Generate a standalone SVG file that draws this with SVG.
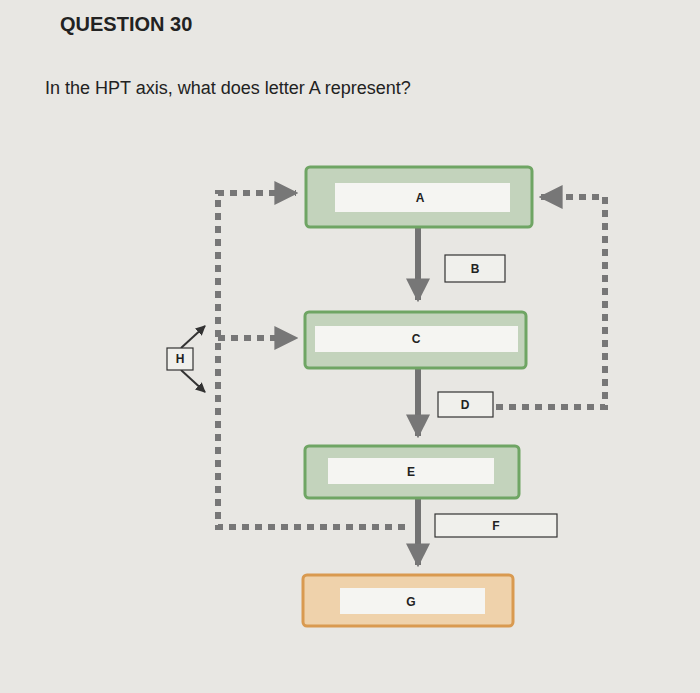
<svg xmlns="http://www.w3.org/2000/svg" width="700" height="693" viewBox="0 0 700 693">
<style>
text{font-family:"Liberation Sans",Arial,sans-serif;fill:#222}
.lab{font-size:12px;font-weight:bold;text-anchor:middle}
.g{fill:#c3d3bc;stroke:#6fa564;stroke-width:3}
.o{fill:#efd2ab;stroke:#d99a50;stroke-width:3}
.in{fill:#f5f5f2}
.tag{fill:#f0f0ec;stroke:#333;stroke-width:1.2}
.d{fill:none;stroke:#777;stroke-width:6;stroke-dasharray:7 6}
.s{fill:none;stroke:#737373;stroke-width:6}
.h{stroke:#333;stroke-width:2}
</style>
<defs>
<marker id="ah" viewBox="0 0 10 10" refX="9" refY="5" markerWidth="4" markerHeight="4" orient="auto"><path d="M0,0L10,5L0,10z" fill="#777"/></marker>
<marker id="sh" viewBox="0 0 10 10" refX="9" refY="5" markerWidth="5" markerHeight="5" orient="auto"><path d="M0,0L10,5L0,10z" fill="#333"/></marker>
</defs>
<rect width="700" height="693" fill="#e8e7e3"/>
<text x="60" y="31" font-size="20" font-weight="bold">QUESTION 30</text>
<text x="45" y="94" font-size="18">In the HPT axis, what does letter A represent?</text>
<g id="connectors">
<path class="s" d="M418,228V300" marker-end="url(#ah)"/>
<path class="s" d="M418,369V436" marker-end="url(#ah)"/>
<path class="s" d="M418,499V565" marker-end="url(#ah)"/>
<path class="d" d="M405,527H218V193H296" marker-end="url(#ah)"/>
<path class="d" d="M218,338H296" marker-end="url(#ah)"/>
<path class="d" d="M496,407H605V197H541" marker-end="url(#ah)"/>
<path class="h" d="M181,348L205,326" marker-end="url(#sh)"/>
<path class="h" d="M181,370L205,392" marker-end="url(#sh)"/>
</g>
<g id="A"><rect class="g" x="306" y="167" width="226" height="60" rx="4"/><rect class="in" x="335" y="183" width="175" height="29"/><text class="lab" x="420" y="202">A</text></g>
<g id="C"><rect class="g" x="305" y="312" width="221" height="56" rx="4"/><rect class="in" x="315" y="326" width="203" height="26"/><text class="lab" x="416" y="343">C</text></g>
<g id="E"><rect class="g" x="305" y="446" width="214" height="52" rx="4"/><rect class="in" x="328" y="458" width="166" height="26"/><text class="lab" x="411" y="476">E</text></g>
<g id="G"><rect class="o" x="303" y="575" width="210" height="51" rx="4"/><rect class="in" x="340" y="588" width="145" height="26"/><text class="lab" x="411" y="606">G</text></g>
<g id="B"><rect class="tag" x="445" y="255" width="60" height="27"/><text class="lab" x="475" y="273">B</text></g>
<g id="D"><rect class="tag" x="438" y="392" width="55" height="25"/><text class="lab" x="465" y="409">D</text></g>
<g id="F"><rect class="tag" x="435" y="514" width="122" height="23"/><text class="lab" x="496" y="530">F</text></g>
<g id="H"><rect class="tag" x="167" y="348" width="26" height="22"/><text class="lab" x="180" y="363">H</text></g>
</svg>
